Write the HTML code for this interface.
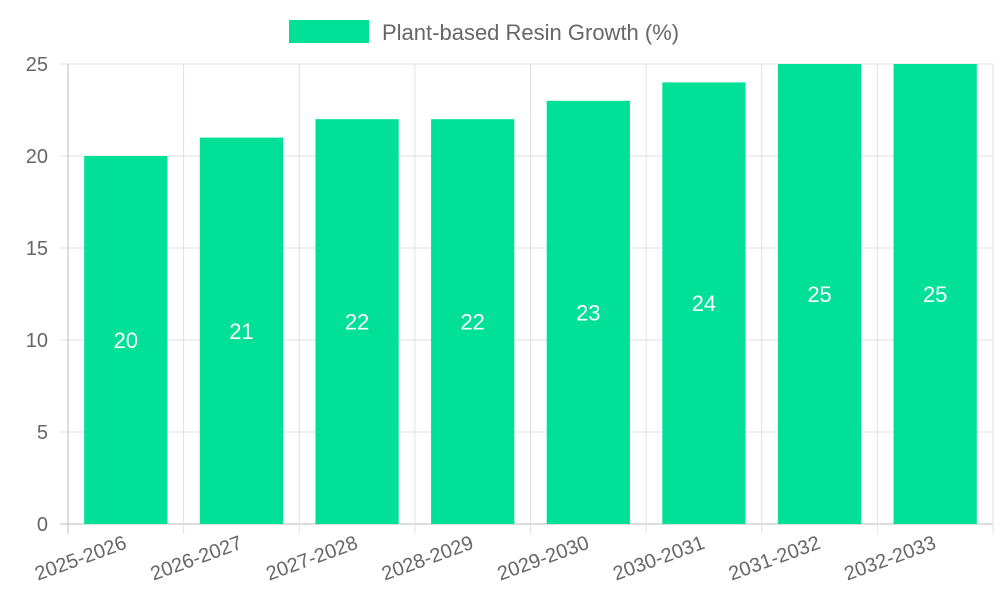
<!DOCTYPE html>
<html><head><meta charset="utf-8"><style>
body{margin:0;background:#fff;font-family:"Liberation Sans",sans-serif;}
</style></head><body>
<svg id="c" width="1000" height="600" xmlns="http://www.w3.org/2000/svg"></svg>
<script>
const categories=["2025-2026","2026-2027","2027-2028","2028-2029","2029-2030","2030-2031","2031-2032","2032-2033"];
const values=[20,21,22,22,23,24,25,25];
const yTicks=[0,5,10,15,20,25];
const seriesName="Plant-based Resin Growth (%)";
const svg=document.getElementById('c');
const NS="http://www.w3.org/2000/svg";
const L=68,R=993,T=64,B=524,yMax=25;
const bw=(R-L)/categories.length;
const y=v=>B-(v/yMax)*(B-T);
const xC=i=>L+bw*(i+0.5);
function mk(t,a,p){const e=document.createElementNS(NS,t);for(const k in a)e.setAttribute(k,a[k]);(p||svg).appendChild(e);return e;}
const grid=mk('g',{});


yTicks.forEach(v=>{
  mk('line',{x1:60,x2:R,y1:y(v),y2:y(v),stroke:v===0?'#bbb':'#e0e0e0','stroke-width':1},grid);
  const t=mk('text',{x:48,y:y(v)+7,'text-anchor':'end','font-size':20,fill:'#666'});
  t.textContent=v;
  
  
});
for(let i=0;i<=categories.length;i++){
  const x=L+bw*i;
  mk('line',{x1:x,x2:x,y1:T,y2:534,stroke:i===0?'#bbb':'#e0e0e0','stroke-width':1},grid);
}
categories.forEach((c,i)=>{
  const w=bw*0.72,h=B-y(values[i]);
  const r=mk('rect',{x:xC(i)-w/2,y:y(values[i]),width:w,height:h,fill:'#00e096'});
  
  
  const t=mk('text',{x:xC(i),y:y(values[i]/2)+8,'text-anchor':'middle','font-size':22,fill:'#fff'});
  t.textContent=values[i];
  
  
  const xl=mk('text',{x:xC(i)+2,y:548,'text-anchor':'end','font-size':20,fill:'#666',transform:`rotate(-20 ${xC(i)+2} 548)`});
  xl.textContent=c;
  
  
});
const lg=mk('g',{});


mk('rect',{x:289,y:20,width:80,height:23,fill:'#00e096'},lg);
const lt=mk('text',{x:382,y:40,'font-size':22,fill:'#666'},lg);
lt.textContent=seriesName;
</script>
</body></html>
